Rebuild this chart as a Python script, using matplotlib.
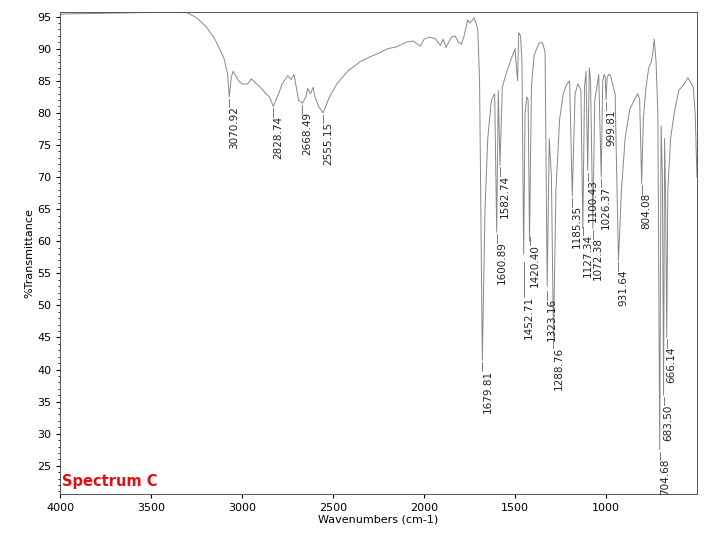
import matplotlib
matplotlib.use("Agg")
import matplotlib.pyplot as plt

# (wavenumber, %T)
spectrum = [
(4000,95.4),(3800,95.5),(3600,95.6),(3400,95.7),(3300,95.6),(3250,94.8),(3200,93.5),(3150,91.5),
(3100,88.5),(3080,86),(3070.92,82.5),(3060,85.5),(3050,86.5),(3020,85),(3000,84.5),(2970,84.5),
(2950,85.3),(2920,84.5),(2900,84),(2870,83),(2850,82.5),(2828.74,81),(2800,83),(2780,84.5),
(2750,85.8),(2730,85.2),(2715,86),(2690,82),(2668.49,81.5),(2650,82.5),(2640,83.8),(2625,83),
(2610,84),(2600,82.5),(2580,81),(2555.15,80),(2520,82.5),(2480,84.5),(2420,86.5),(2350,88),
(2300,88.7),(2250,89.3),(2200,90),(2150,90.3),(2100,91),(2060,91.2),(2040,90.8),(2020,90.4),
(2000,91.5),(1970,91.8),(1940,91.6),(1910,90.5),(1895,91.5),(1880,90.2),(1865,91),(1850,91.8),
(1830,92),(1810,91),(1795,90.7),(1780,92),(1760,94.5),(1750,94),(1740,94.3),(1725,94.8),
(1715,94),(1705,93),(1695,85),(1679.81,41.4),(1665,65),(1650,76),(1630,82),(1612,83),
(1600.89,61.4),(1592,83.5),(1582.74,71.8),(1570,84),(1550,86),(1520,88.5),(1500,90),(1492,87),
(1486,85),(1480,92.5),(1470,92),(1462,88),(1452.71,58),(1445,80),(1435,82.5),(1428,82),
(1420.40,60),(1410,84),(1395,89),(1370,90.8),(1350,91),(1335,89.5),(1323.16,53),(1312,76),
(1300,70),(1288.76,45),(1275,68),(1255,79),(1235,83),(1215,84.5),(1200,85),(1185.35,67),
(1170,83),(1155,84.5),(1145,84),(1138,83.5),(1127.34,62),(1118,84),(1110,86.5),(1100.43,71),
(1092,87),(1085,85),(1072.38,62),(1062,82),(1050,84),(1040,86),(1026.37,70),(1018,85),
(1010,86),(1004,85.5),(999.81,82),(994,85.5),(985,86),(975,85.8),(960,84),(950,83),
(931.64,57),(915,68),(895,76),(870,80.5),(845,82),(825,83),(815,82),(804.08,69),
(795,79),(780,84),(765,87),(750,88),(742,89.5),(735,91.5),(725,88),(715,80),
(704.68,27.5),(697,78),(690,70),(683.50,36),(678,76),(672,66),(666.14,45),(660,68),
(645,76),(625,80),(600,83.5),(585,84),(570,84.5),(560,85),(550,85.5),(540,85),
(530,84.5),(520,84),(510,80),(500,70),
]
wn = [p[0] for p in spectrum]
tr = [p[1] for p in spectrum]

peak_wn = [3070.92,2828.74,2668.49,2555.15,1679.81,1600.89,1582.74,1452.71,1420.40,1323.16,1288.76,1185.35,1127.34,1100.43,1072.38,1026.37,999.81,931.64,804.08,704.68,683.50,666.14]
peak_lbl = ["3070.92","2828.74","2668.49","2555.15","1679.81","1600.89","1582.74","1452.71","1420.40","1323.16","1288.76","1185.35","1127.34","1100.43","1072.38","1026.37","999.81","931.64","804.08","704.68","683.50","666.14"]
label_y = [82.5,81,81.5,80,41.4,61.4,71.8,57,61,52.5,45,67,62.5,71,62,70,82,57,69,27.5,36,45]
text_top = [81.1,79.6,80.1,78.6,40.0,60.0,70.4,51.5,59.6,51.1,43.6,65.6,61.1,69.6,60.6,68.6,80.6,55.6,67.6,26.1,34.6,43.6]
xticks = [4000,3500,3000,2500,2000,1500,1000]
yticks = [25,30,35,40,45,50,55,60,65,70,75,80,85,90,95]

fig = plt.figure(figsize=(7.26,5.52), dpi=100)
ax = fig.add_axes([0.083,0.105,0.877,0.873])
ax.plot(wn, tr, color="#888888", lw=0.7)
for w, l, y, t in zip(peak_wn, peak_lbl, label_y, text_top):
    ax.plot([w,w],[y-0.3,t-0.2], color="#666666", lw=0.6)
    ax.text(w, t, l, rotation=90, ha="left", va="top", fontsize=7.5, color="#222222")
ax.set_xlim(4000,500)
ax.set_ylim(20.6,95.7)
ax.set_xticks(xticks)
ax.set_yticks(yticks)
ax.set_yticks(range(21,96), minor=True)
ax.tick_params(labelsize=8, length=3)
ax.tick_params(which="minor", length=1.5)
ax.set_xlabel("Wavenumbers (cm-1)", fontsize=8, labelpad=1)
ax.set_ylabel("%Transmittance", fontsize=8, labelpad=2)
for s in ax.spines.values():
    s.set_color("#555555"); s.set_linewidth(0.7)
ax.text(0.003,0.01,"Spectrum C", transform=ax.transAxes, color="#e01010", fontsize=10.5, fontweight="bold", ha="left", va="bottom")
fig.savefig("out.png", dpi=100)
